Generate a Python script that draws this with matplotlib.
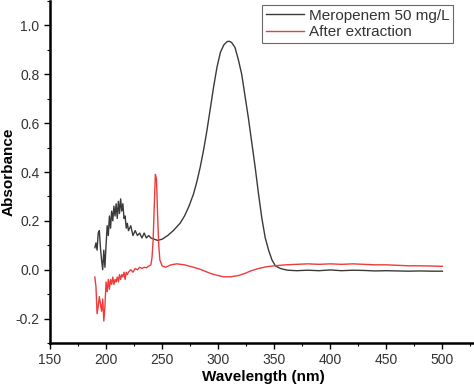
import matplotlib
matplotlib.use("Agg")
import matplotlib.pyplot as plt
from matplotlib.ticker import MultipleLocator

plt.rcParams['font.family'] = ['Liberation Sans', 'DejaVu Sans']

# Meropenem 50 mg/L spectrum
wl_mero = [190, 191, 192, 193, 194, 195, 196, 197, 198, 199, 200, 201, 202, 203, 204,
           205, 206, 207, 208, 209, 210, 211, 212, 213, 214, 215, 216, 217, 218, 219,
           220, 222, 224, 226, 228, 230, 232, 234, 236, 238, 240, 243, 246, 250, 255,
           260, 266, 270, 274, 278, 281, 284, 287, 290, 293, 296, 299, 302, 305, 308, 310, 312,
           315, 318, 321, 324, 327, 330, 333, 336, 339, 342, 345, 348, 351, 355, 358,
           362, 370, 380, 390, 400, 410, 420, 430, 440, 450, 460, 470, 480, 490, 500]
abs_mero = [0.09, 0.11, 0.08, 0.15, 0.16, 0.09, 0.04, 0.00, 0.08, 0.01, 0.10, 0.18, 0.14, 0.22,
            0.17, 0.24, 0.20, 0.26, 0.22, 0.27, 0.21, 0.28, 0.23, 0.29, 0.24, 0.27, 0.21, 0.22,
            0.17, 0.19, 0.16, 0.18, 0.14, 0.16, 0.14, 0.15, 0.13, 0.15, 0.13, 0.14, 0.13, 0.125,
            0.12, 0.125, 0.14, 0.16, 0.19, 0.22, 0.26, 0.31, 0.36, 0.42, 0.49, 0.57, 0.66, 0.75,
            0.83, 0.89, 0.92, 0.934, 0.935, 0.93, 0.91, 0.86, 0.80, 0.71, 0.62, 0.52, 0.42, 0.31,
            0.21, 0.13, 0.08, 0.04, 0.016, 0.006, 0.002, -0.002, -0.004, -0.002, -0.004, -0.001,
            -0.004, -0.002, -0.003, -0.005, -0.004, -0.005, -0.006, -0.005, -0.006, -0.006]

# After extraction spectrum
wl_ext = [190, 191, 192, 193, 194, 195, 196, 197, 198, 199, 200, 201, 202, 203, 204,
          205, 206, 207, 208, 209, 210, 211, 212, 213, 214, 215, 216, 217, 218, 219,
          220, 222, 224, 226, 228, 230, 232, 234, 236, 238, 240, 241, 242, 243, 244,
          245, 246, 247, 248, 250, 253, 258, 263, 270, 278, 285, 293, 300, 305, 311,
          318, 324, 329, 336, 343, 350, 355, 360, 370, 380, 390, 400, 410, 420, 430,
          440, 450, 460, 470, 480, 490, 500]
abs_ext = [-0.03, -0.07, -0.18, -0.15, -0.11, -0.14, -0.17, -0.12, -0.21, -0.15, -0.05, -0.09,
           -0.04, -0.08, -0.04, -0.06, -0.03, -0.06, -0.04, -0.05, -0.03, -0.05, -0.02, -0.04,
           -0.02, -0.03, -0.01, -0.04, -0.01, -0.02, -0.01, 0.00, -0.01, 0.005, 0.00, 0.01,
           0.005, 0.01, 0.008, 0.015, 0.02, 0.05, 0.12, 0.26, 0.39, 0.37, 0.22, 0.10, 0.04,
           0.016, 0.01, 0.02, 0.024, 0.02, 0.01, 0.00, -0.015, -0.024, -0.029, -0.029, -0.024,
           -0.015, -0.005, 0.005, 0.012, 0.016, 0.018, 0.02, 0.022, 0.024, 0.022, 0.024, 0.022,
           0.024, 0.022, 0.02, 0.02, 0.018, 0.016, 0.016, 0.015, 0.014]

fig = plt.figure(figsize=(4.74, 3.89), dpi=100)
ax = fig.add_axes([50 / 474, 46 / 389, 426 / 474, 342 / 389])

ax.plot(wl_mero, abs_mero, color='#3a3a3a', lw=1.0, label='Meropenem 50 mg/L')
ax.plot(wl_ext, abs_ext, color='#ee3b3b', lw=1.0, label='After extraction')

ax.set_xlim(150, 530)
ax.set_ylim(-0.3, 1.1)
ax.xaxis.set_major_locator(MultipleLocator(50))
ax.xaxis.set_minor_locator(MultipleLocator(25))
ax.yaxis.set_major_locator(MultipleLocator(0.2))
ax.yaxis.set_minor_locator(MultipleLocator(0.1))
ax.yaxis.set_major_formatter(plt.FuncFormatter(lambda v, p: f'{v:.1f}'))

ax.spines['top'].set_visible(False)
ax.spines['right'].set_visible(False)
ax.spines['left'].set_linewidth(1.8)
ax.spines['bottom'].set_linewidth(1.8)
ax.tick_params(which='major', direction='out', length=4, width=1, labelsize=10,
               labelcolor='#333333')
ax.tick_params(which='minor', direction='out', length=2, width=0.8)

ax.set_xlabel('Wavelength (nm)', fontsize=11, fontweight='bold', labelpad=2)
ax.set_ylabel('Absorbance', fontsize=11, fontweight='bold', labelpad=0)

leg = ax.legend(loc='upper right', bbox_to_anchor=(453 / 474, 1 - 5 / 389),
                bbox_transform=fig.transFigure, fontsize=11, fancybox=False,
                frameon=True, handlelength=2.5, borderpad=0.25, labelspacing=0.15,
                handletextpad=0.3, borderaxespad=0)
leg.get_frame().set_edgecolor('#444444')
leg.get_frame().set_linewidth(0.8)
for t in leg.get_texts():
    t.set_color('#333333')

fig.savefig('out.png', dpi=100)
